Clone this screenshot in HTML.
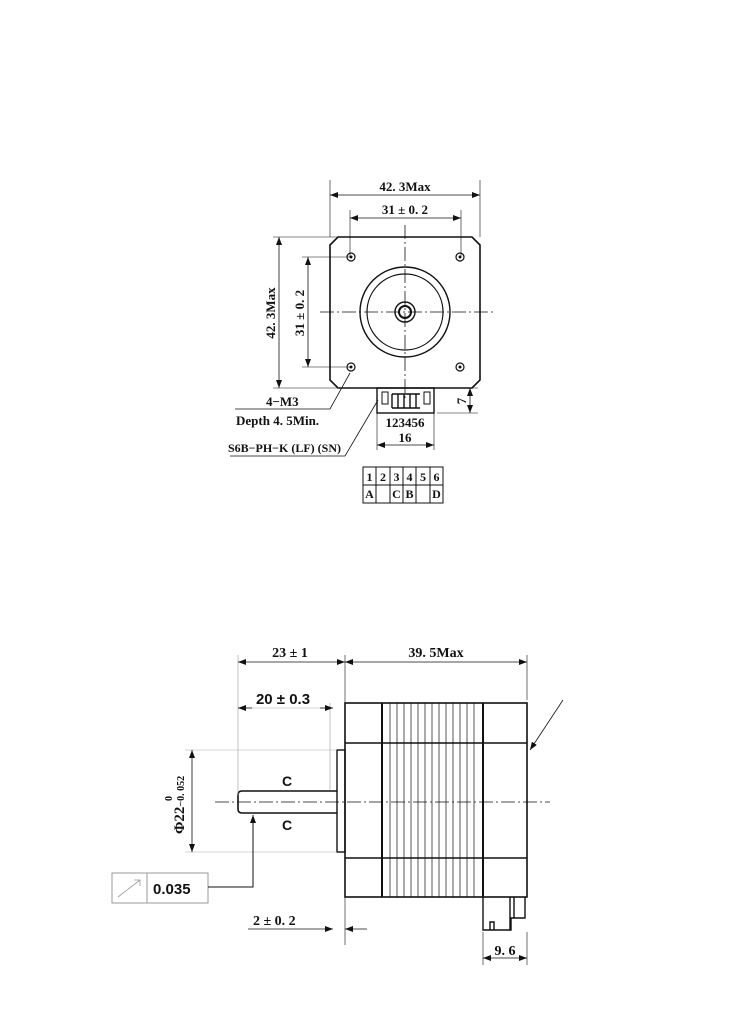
<!DOCTYPE html>
<html><head><meta charset="utf-8"><style>
html,body{margin:0;padding:0;background:#fff;}
svg{display:block;}
text{font-family:"Liberation Serif",serif;font-weight:bold;fill:#111;}
.s{font-family:"Liberation Sans",sans-serif;}
</style></head><body>
<svg width="750" height="1024" viewBox="0 0 750 1024" xmlns="http://www.w3.org/2000/svg">
<defs>
<marker id="a" markerWidth="8" markerHeight="6" refX="8" refY="3" orient="auto-start-reverse" markerUnits="userSpaceOnUse"><path d="M0,0 L8,3 L0,6 z" fill="#111"/></marker>
</defs>
<g stroke="#111" fill="none" stroke-width="1">
<!-- TOP VIEW -->
<path d="M338,237 L472,237 L480,245 L480,380 L472,388 L338,388 L330,380 L330,245 Z" stroke-width="1.6"/>
<circle cx="405" cy="312" r="45" stroke-width="1.4"/>
<circle cx="405" cy="312" r="38" stroke-width="1.2"/>
<circle cx="405" cy="312" r="10" stroke-width="1.4"/>
<circle cx="405" cy="312" r="6" stroke-width="2"/>
<g stroke-width="1.2">
<circle cx="351" cy="257" r="4"/><circle cx="460" cy="257" r="4"/>
<circle cx="351" cy="367" r="4"/><circle cx="460" cy="367" r="4"/>
</g>
<g fill="#111" stroke="none">
<circle cx="351" cy="257" r="1.5"/><circle cx="460" cy="257" r="1.5"/>
<circle cx="351" cy="367" r="1.5"/><circle cx="460" cy="367" r="1.5"/>
</g>
<path d="M320,312 H495" stroke-dasharray="14,3,2,3" stroke-width="0.8"/>
<path d="M405,225 V400" stroke-dasharray="14,3,2,3" stroke-width="0.8"/>
<path d="M330,180 V237 M480,180 V237 M350,210 V257 M461,210 V257" stroke-width="0.6"/>
<path d="M330,195 H480" marker-start="url(#a)" marker-end="url(#a)" stroke-width="0.8"/>
<path d="M350,218 H461" marker-start="url(#a)" marker-end="url(#a)" stroke-width="0.8"/>
<path d="M273,237 H338 M273,388 H338 M302,257 H351 M302,367 H351" stroke-width="0.6"/>
<path d="M279,237 V388" marker-start="url(#a)" marker-end="url(#a)" stroke-width="0.8"/>
<path d="M308,257 V367" marker-start="url(#a)" marker-end="url(#a)" stroke-width="0.8"/>
<rect x="377" y="388" width="57" height="25" stroke-width="1.4"/>
<rect x="382" y="392" width="6" height="12" stroke-width="1"/>
<rect x="424" y="392" width="6" height="12" stroke-width="1"/>
<path d="M392,394 H420 M392,394 V408 M398,394 V408 M404,394 V408 M410,394 V408 M416,394 V408 M392,408 H420" stroke-width="1.4"/>
<path d="M437,388 H478 M437,413 H478" stroke-width="0.6"/>
<path d="M470,388 V413" marker-start="url(#a)" marker-end="url(#a)" stroke-width="0.8"/>
<path d="M377,413 V450 M434,413 V450" stroke-width="0.6"/>
<path d="M377,445 H434" marker-start="url(#a)" marker-end="url(#a)" stroke-width="0.8"/>
<path d="M235,409 H330 L350,373" stroke-width="0.8"/>
<path d="M230,456 H345 L378,400" stroke-width="0.8"/>
<rect x="363" y="467" width="80" height="36" stroke-width="1"/>
<path d="M363,485 H443 M376,467 V503 M390,467 V503 M403,467 V503 M416,467 V503 M430,467 V503" stroke-width="1"/>

<!-- SIDE VIEW -->
<rect x="345" y="703" width="182" height="194" stroke-width="1.6"/>
<path d="M345,743 H527 M345,858 H527" stroke-width="1.4"/>
<path d="M382,703 V897 M483,703 V897" stroke-width="2"/>
<path d="M390,703V897M397,703V897M404,703V897M411,703V897M418,703V897M425,703V897M432,703V897M439,703V897M446,703V897M453,703V897M460,703V897M467,703V897M474,703V897" stroke-width="0.7"/>
<rect x="337" y="750" width="8" height="102" stroke-width="1.4"/>
<path d="M337,791 H242 Q238,791 238,795 V809 Q238,813 242,813 H337" stroke-width="1.6"/>
<path d="M483,897 V930 H511 V918 H525 V897 M510,897 V930 M514,897 V918 M490,930 V922 H494 V930" stroke-width="1.4"/>
<path d="M215,802 H550" stroke-dasharray="14,3,2,3" stroke-width="0.8"/>
<path d="M238,655 V795 M330,703 V790" stroke="#999" stroke-width="0.6"/>
<path d="M345,655 V945 M527,655 V700 M483,932 V965 M527,932 V965" stroke-width="0.6"/>
<path d="M238,662 H345" marker-start="url(#a)" marker-end="url(#a)" stroke-width="0.8"/>
<path d="M345,662 H527" marker-start="url(#a)" marker-end="url(#a)" stroke-width="0.8"/>
<path d="M238,708 H330" stroke="#aaa" stroke-width="0.6"/>
<path d="M238,708 H252" marker-start="url(#a)" stroke-width="0.8"/>
<path d="M320,708 H333" marker-end="url(#a)" stroke-width="0.8"/>
<path d="M185,750 H337 M185,852 H337" stroke="#aaa" stroke-width="0.6"/>
<path d="M192,750 V852" marker-start="url(#a)" marker-end="url(#a)" stroke-width="0.8"/>
<path d="M248,929 H333" marker-end="url(#a)" stroke-width="0.8"/>
<path d="M367,929 H345" marker-end="url(#a)" stroke-width="0.8"/>
<path d="M483,958 H527" marker-start="url(#a)" marker-end="url(#a)" stroke-width="0.8"/>
<path d="M563,700 L530,750" marker-end="url(#a)" stroke-width="0.8"/>
<rect x="112" y="873" width="96" height="30" stroke="#999" stroke-width="1"/>
<path d="M147,873 V903" stroke="#999"/>
<path d="M118,897 L140,880 M134,880 H140 V886" stroke="#999" stroke-width="0.8"/>
<path d="M208,887 H253 V815" marker-end="url(#a)" stroke-width="1"/>
</g>
<g font-size="13">
<text x="405" y="191" text-anchor="middle">42. 3Max</text>
<text x="405" y="214" text-anchor="middle">31 ± 0. 2</text>
<text transform="translate(275,313) rotate(-90)" text-anchor="middle">42. 3Max</text>
<text transform="translate(304,313) rotate(-90)" text-anchor="middle">31 ± 0. 2</text>
<text transform="translate(466,401) rotate(-90)" text-anchor="middle">7</text>
<text x="405" y="427" text-anchor="middle">123456</text>
<text x="405" y="442" text-anchor="middle">16</text>
<text x="266" y="406">4−M3</text>
<text x="236" y="425">Depth 4. 5Min.</text>
<text x="228" y="452" font-size="12">S6B−PH−K (LF) (SN)</text>
<g font-size="12" text-anchor="middle">
<text x="369.5" y="481">1</text><text x="383" y="481">2</text><text x="396.5" y="481">3</text><text x="409.5" y="481">4</text><text x="423" y="481">5</text><text x="436.5" y="481">6</text>
<text x="369.5" y="498">A</text><text x="396.5" y="498">C</text><text x="409.5" y="498">B</text><text x="436.5" y="498">D</text>
</g>
<text x="290" y="657" text-anchor="middle" font-size="14">23 ± 1</text>
<text x="436" y="657" text-anchor="middle" font-size="14">39. 5Max</text>
<text class="s" x="283" y="704" text-anchor="middle" font-weight="normal" font-size="15">20 ± 0.3</text>
<text transform="translate(184,834) rotate(-90)" font-size="15">Φ22<tspan font-size="10">−0. 052</tspan></text>
<text transform="translate(172,801) rotate(-90)" font-size="10">0</text>
<text class="s" x="282" y="786" font-size="14">C</text>
<text class="s" x="282" y="830" font-size="14">C</text>
<text class="s" x="153" y="894" font-weight="normal" font-size="15">0.035</text>
<text x="253" y="925" font-size="14">2 ± 0. 2</text>
<text x="505" y="955" text-anchor="middle" font-size="14">9. 6</text>
</g>
</svg>
</body></html>
